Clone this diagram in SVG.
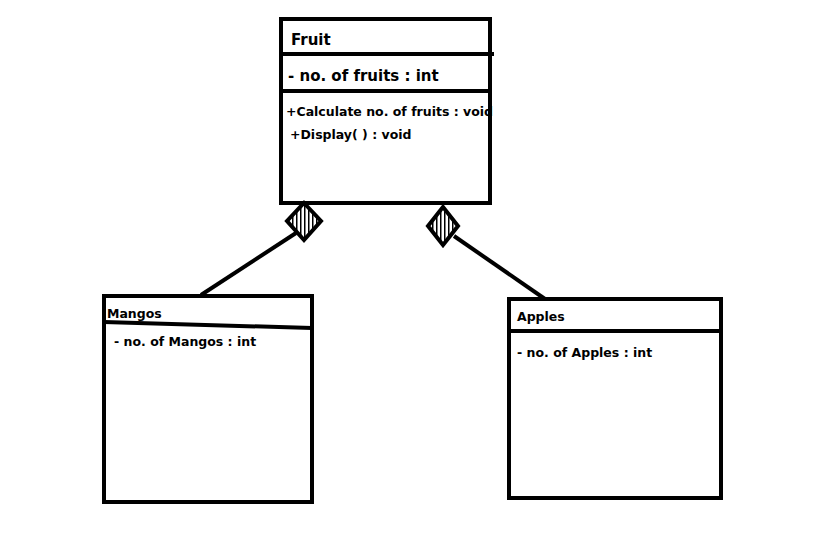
<svg xmlns="http://www.w3.org/2000/svg" width="818" height="544" viewBox="0 0 818 544">
<style>
.b{fill:#fff;stroke:#000;stroke-width:4}
.l{stroke:#000;stroke-width:4;fill:none}
.t{font-family:"DejaVu Sans",sans-serif;font-weight:bold;fill:#000}
</style>
<defs>
<pattern id="h" width="4" height="4" patternUnits="userSpaceOnUse"><rect width="4" height="4" fill="#fff"/><rect width="1.5" height="4" fill="#000"/></pattern>
</defs>
<rect width="818" height="544" fill="#fff"/>
<g id="fruit">
<rect class="b" x="281" y="19" width="209" height="184"/>
<line class="l" x1="281" y1="54" x2="494" y2="54"/>
<line class="l" x1="281" y1="91" x2="490" y2="91"/>
<text class="t" x="291" y="45" font-size="15">Fruit</text>
<text class="t" x="288" y="81" font-size="15">- no. of fruits : int</text>
<text class="t" x="286" y="116" font-size="12.5">+Calculate no. of fruits : void</text>
<text class="t" x="290" y="139" font-size="12.5">+Display( ) : void</text>
</g>
<g id="connectors">
<line class="l" x1="296" y1="233" x2="201" y2="295"/>
<line class="l" x1="454" y1="236" x2="545" y2="299"/>
<polygon points="304,203 321,221 304,240 287,221" fill="url(#h)" stroke="#000" stroke-width="4"/>
<polygon points="443,207 458,226 443,245 428,226" fill="url(#h)" stroke="#000" stroke-width="4"/>
</g>
<g id="mangos">
<rect class="b" x="104" y="296" width="208" height="206"/>
<line class="l" x1="104" y1="322" x2="312" y2="328"/>
<text class="t" x="107" y="318" font-size="12.5">Mangos</text>
<text class="t" x="114" y="346" font-size="12.5">- no. of Mangos  : int</text>
</g>
<g id="apples">
<rect class="b" x="509" y="299" width="212" height="199"/>
<line class="l" x1="509" y1="331" x2="721" y2="331"/>
<text class="t" x="517" y="321" font-size="12.5">Apples</text>
<text class="t" x="517" y="357" font-size="12.5">- no.  of Apples : int</text>
</g>
</svg>
